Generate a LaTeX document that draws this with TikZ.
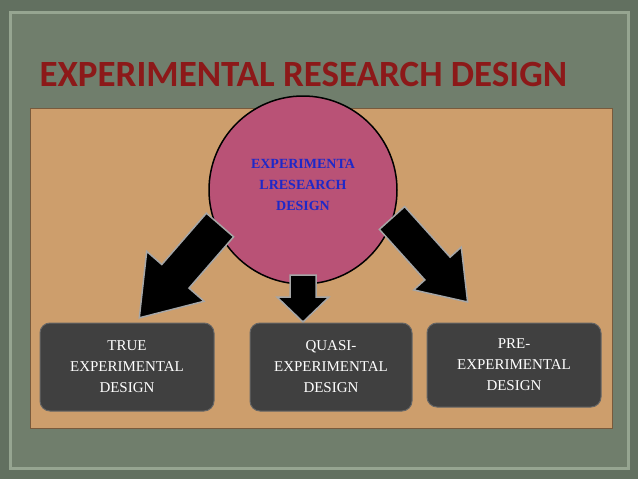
\documentclass[tikz,border=0pt]{standalone}
\usepackage{fontspec}
\setmainfont{Liberation Serif}
\newfontfamily\titlefont{Carlito}
\begin{document}
\begin{tikzpicture}[x=1pt,y=-1pt,
  arrowsty/.style={fill=black,draw=gray!70,line width=1.5pt,line join=miter},
  boxsty/.style={fill=black!75,draw=black!60,line width=1pt,rounded corners=10pt,minimum width=174pt,minimum height=88pt,text=white,align=center,font=\fontsize{15}{21}\selectfont}]
\useasboundingbox (0,0) rectangle (638,479);
\fill[fill={rgb,255:red,98;green,112;blue,96}] (0,0) rectangle (638,479);
\draw[line width=3pt,draw={rgb,255:red,150;green,165;blue,145},fill={rgb,255:red,112;green,126;blue,108}] (10,12) rectangle (628,468);
\node[font=\titlefont\bfseries\fontsize{37}{40}\selectfont,text={rgb,255:red,140;green,25;blue,25},anchor=west] (title) at (36,74) {EXPERIMENTAL RESEARCH DESIGN};
\draw[line width=1pt,draw={rgb,255:red,120;green,90;blue,60},fill={rgb,255:red,205;green,158;blue,108}] (30,108) rectangle (612,428);
\node[circle,draw=black,line width=1.5pt,fill={rgb,255:red,185;green,82;blue,118},minimum size=188pt,inner sep=0pt] (c) at (303,190) {};
\node[font=\bfseries\fontsize{14}{21}\selectfont,text={rgb,255:red,30;green,40;blue,200},align=center] (ct) at (303,185) {EXPERIMENTA\\LRESEARCH\\DESIGN};
% arrows
\begin{scope}[shift={(220,225)},rotate=229]
\draw[arrowsty] (0,-18)--(68,-18)--(68,-38)--(123,0)--(68,38)--(68,18)--(0,18)--cycle;
\end{scope}
\begin{scope}[shift={(303,275)},rotate=-90]
\draw[arrowsty] (0,-13)--(22,-13)--(22,-26)--(47,0)--(22,26)--(22,13)--(0,13)--cycle;
\end{scope}
\begin{scope}[shift={(392,218)},rotate=-48]
\draw[arrowsty] (0,-17)--(68,-17)--(68,-32)--(113,0)--(68,32)--(68,17)--(0,17)--cycle;
\end{scope}
\node[boxsty] (b1) at (127,367) {TRUE\\EXPERIMENTAL\\DESIGN};
\node[boxsty,minimum width=162pt] (b2) at (331,367) {QUASI-\\EXPERIMENTAL\\DESIGN};
\node[boxsty,minimum height=84pt] (b3) at (514,365) {PRE-\\EXPERIMENTAL\\DESIGN};
\end{tikzpicture}
\end{document}
